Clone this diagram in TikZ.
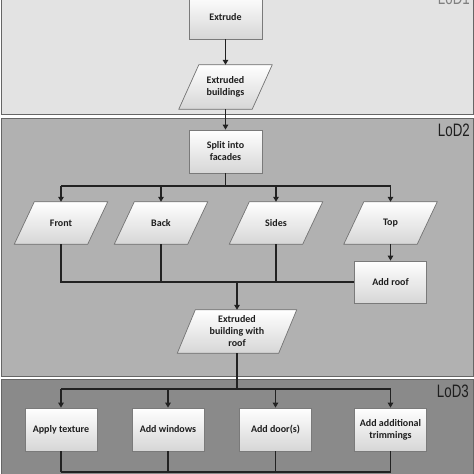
\documentclass[tikz,border=0pt]{standalone}
\usepackage{fontspec}
\setmainfont{Carlito}
\newfontfamily\lodfont{Liberation Sans}
\usetikzlibrary{arrows.meta}
\definecolor{bandA}{HTML}{E3E3E3}
\definecolor{bandB}{HTML}{B1B1B1}
\definecolor{bandC}{HTML}{8A8A8A}
\definecolor{bandline}{HTML}{666666}
\definecolor{boxborder}{HTML}{7A7A7A}
\definecolor{boxbottom}{HTML}{D6D6D6}
\definecolor{conncol}{HTML}{222222}
\definecolor{txtcol}{HTML}{1E1E1E}
\newcommand{\txtfont}{\fontsize{10}{12}\selectfont\bfseries}
\newcommand{\lodlabel}[1]{\lodfont\fontsize{18}{18}\selectfont\scalebox{0.74}[1]{#1}}
\pgfdeclarelayer{back}
\pgfdeclarelayer{bg}
\pgfsetlayers{back,bg,main}
\newcommand{\parashape}[2]{%
  \filldraw[parabody] ([xshift=-#2]#1.south west) -- ([xshift=#2]#1.north west)
    -- ([xshift=#2]#1.north east) -- ([xshift=-#2]#1.south east) -- cycle;}
\begin{document}
\begin{tikzpicture}[x=1pt,y=-1pt,
  band/.style={draw=bandline, line width=0.8pt},
  shade/.style={top color=white, bottom color=boxbottom},
  stepbox/.style={draw=boxborder, line width=0.7pt, shade, minimum width=72pt,
    minimum height=43pt, inner sep=1pt, align=center, font=\txtfont, text=txtcol},
  para/.style={minimum width=73pt, minimum height=42pt, inner sep=0pt,
    align=center, font=\txtfont, text=txtcol},
  parabody/.style={draw=boxborder, line width=0.7pt, shade},
  conn/.style={draw=conncol, line width=1.5pt},
  arr/.style={conn, -{Triangle[length=5pt,width=5.5pt]}},
  lod/.style={anchor=base east, inner sep=0pt, text=txtcol}]
\useasboundingbox (0,0) rectangle (474,474);
\clip (0,0) rectangle (474,474);
\begin{pgfonlayer}{back}
\fill[white] (0,0) rectangle (474,474);
\filldraw[band, fill=bandA] (1,-10) rectangle (473,114.5);
\filldraw[band, fill=bandB] (1,118.5) rectangle (473,376.5);
\filldraw[band, fill=bandC] (1,379.5) rectangle (473,490);
\end{pgfonlayer}
\node[lod, text=gray] (lod1) at (470,4) {\lodlabel{LoD1}};
\node[lod] (lod2) at (470,136) {\lodlabel{LoD2}};
\node[lod] (lod3) at (469,397) {\lodlabel{LoD3}};
% LoD1
\node[stepbox, minimum width=73pt, minimum height=44pt] (extrude) at (225.5,17) {Extrude};
\node[para, minimum height=44pt] (ebuild) at (225.5,87) {Extruded\\buildings};
% LoD2
\node[stepbox, minimum width=73pt] (split) at (225.5,151.5) {Split into\\facades};
\node[para] (front) at (61,223) {Front};
\node[para] (back) at (161,223) {Back};
\node[para] (sides) at (276,223) {Sides};
\node[para] (top) at (390.5,223) {Top};
\node[stepbox, minimum height=42pt] (addroof) at (390.5,282) {Add roof};
\node[para, minimum width=101pt, minimum height=43pt] (ebroof) at (237,331.5) {Extruded\\building with\\roof};
% LoD3
\node[stepbox] (tex) at (61,429.5) {Apply texture};
\node[stepbox] (win) at (168,429.5) {Add windows};
\node[stepbox] (door) at (275.5,429.5) {Add door(s)};
\node[stepbox] (trim) at (390.5,429.5) {Add additional\\trimmings};
\begin{pgfonlayer}{bg}
\parashape{ebuild}{10pt}
\parashape{front}{10pt}
\parashape{back}{10pt}
\parashape{sides}{10pt}
\parashape{top}{10pt}
\parashape{ebroof}{9pt}
\end{pgfonlayer}
% connectors
\draw[arr] (extrude.south) -- (ebuild.north);
\draw[arr] (ebuild.south) -- (split.north);
\coordinate (j1) at (225.5,186);
\draw[conn] (split.south) -- (j1);
\draw[conn] (front.north |- j1) -- (top.north |- j1);
\foreach \n in {front,back,sides,top}
  \draw[arr] (\n.north |- j1) -- (\n.north);
\coordinate (j2) at (237,282);
\draw[conn] (front.south) -- (front.south |- j2) -- (addroof.west);
\draw[conn] (back.south) -- (back.south |- j2);
\draw[conn] (sides.south) -- (sides.south |- j2);
\draw[arr] (top.south) -- (addroof.north);
\draw[arr] (j2) -- (ebroof.north);
\coordinate (j3) at (237,389);
\draw[conn] (ebroof.south) -- (j3);
\draw[conn] (tex.north |- j3) -- (trim.north |- j3);
\foreach \n in {tex,win,door,trim}
  \draw[arr] (\n.north |- j3) -- (\n.north);
\coordinate (j4) at (237,472);
\foreach \n in {tex,win,door,trim}
  \draw[conn] (\n.south) -- (\n.south |- j4);
\draw[conn, line width=2pt] (tex.south |- j4) -- (trim.south |- j4);
\end{tikzpicture}
\end{document}
